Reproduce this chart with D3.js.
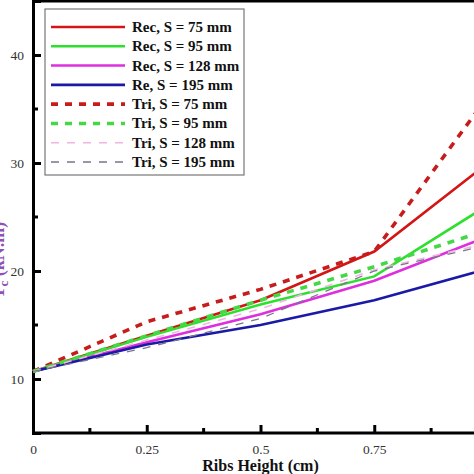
<!DOCTYPE html>
<html lang="en">
  <head>
    <meta charset="UTF-8" />
    <script src="https://cdn.jsdelivr.net/npm/d3@7/dist/d3.min.js"></script>
    <title>Ribs height</title>
    <style>
      body { margin: 0; background: #fff; }
      svg { display: block; }
    </style>
  </head>
  <body>
    <svg width="474" height="474" class="svg"></svg>
    <script>
      // data
      const ribsHeight = [0, 0.25, 0.5, 0.75, 1];
      const seriesNames = [
        'Rec, S = 75 mm', 'Rec, S = 95 mm', 'Rec, S = 128 mm', 'Re, S = 195 mm',
        'Tri, S = 75 mm', 'Tri, S = 95 mm', 'Tri, S = 128 mm', 'Tri, S = 195 mm'
      ];
      const rec75 = [10.7, 14.0, 17.3, 21.8, 30.0];
      const rec95 = [10.7, 13.9, 16.9, 19.5, 26.1];
      const rec128 = [10.7, 13.4, 16.0, 19.1, 23.2];
      const rec195 = [10.7, 13.2, 15.0, 17.3, 20.2];
      const tri75 = [10.7, 15.3, 18.3, 21.8, 36.2];
      const tri95 = [10.7, 14.0, 17.3, 20.4, 23.8];
      const tri128 = [10.7, 13.6, 16.5, 20.1, 22.6];
      const tri195 = [10.7, 12.9, 15.6, 20.0, 22.4];
      // the tick at 1 falls outside the visible area
      const xTicks = [0, 0.25, 0.5, 0.75];
      const yTicks = [10, 20, 30, 40];

      const allSeries = [rec75, rec95, rec128, rec195, tri75, tri95, tri128, tri195];
      // line looks per series
      const looks = [
        { color: '#d41515', width: 2.6, dash: null },
        { color: '#2ee02e', width: 2.6, dash: null },
        { color: '#de2ede', width: 2.6, dash: null },
        { color: '#1a1aa6', width: 2.6, dash: null },
        { color: '#c81c1c', width: 3.6, dash: '7,7' },
        { color: '#45d845', width: 3.6, dash: '7,7' },
        { color: '#f2b4e4', width: 1.6, dash: '8,8' },
        { color: '#777788', width: 1.3, dash: '8,8' }
      ];

      const svg = d3.select('.svg');
      const x = d3.scaleLinear().domain([0, 1]).range([33, 488]);
      const y = d3.scaleLinear().domain([5, 45]).range([433, 1]);

      // frame (top border is visible, right side is cut off)
      svg.append('line')
        .attr('x1', x(0)).attr('x2', 474)
        .attr('y1', y(45)).attr('y2', y(45))
        .attr('stroke', '#000').attr('stroke-width', 3);

      const serif = '"Liberation Serif", "DejaVu Serif", serif';

      // axes, ticks point inward
      const xAxis = svg.append('g')
        .attr('transform', `translate(0, ${y(5)})`)
        .call(d3.axisBottom(x).tickValues(xTicks).tickSize(-8).tickPadding(11)
          .tickFormat(d => d === 0 ? '0' : d3.format('')(d)));
      const yAxis = svg.append('g')
        .attr('transform', `translate(${x(0)}, 0)`)
        .call(d3.axisLeft(y).tickValues(yTicks).tickSize(-8).tickPadding(9));
      xAxis.select('.domain').attr('d', `M${x(0)},0H474`);

      [xAxis, yAxis].forEach(g => {
        g.select('.domain').attr('stroke', '#000').attr('stroke-width', 3);
        g.selectAll('.tick line').attr('stroke', '#000').attr('stroke-width', 3);
        g.selectAll('.tick text')
          .attr('font-family', serif).attr('font-size', 13.5).attr('fill', '#333');
      });

      // minor ticks
      svg.append('g').selectAll('line')
        .data([0.125, 0.375, 0.625, 0.875])
        .join('line')
        .attr('x1', d => x(d)).attr('x2', d => x(d))
        .attr('y1', y(5)).attr('y2', y(5) - 5)
        .attr('stroke', '#000').attr('stroke-width', 3);
      svg.append('g').selectAll('line')
        .data([15, 25, 35])
        .join('line')
        .attr('x1', x(0)).attr('x2', x(0) + 5)
        .attr('y1', d => y(d)).attr('y2', d => y(d))
        .attr('stroke', '#000').attr('stroke-width', 3);

      // axis titles
      svg.append('text')
        .text('Ribs Height (cm)')
        .attr('x', x(0.5)).attr('y', 471)
        .attr('text-anchor', 'middle')
        .attr('font-family', serif).attr('font-weight', 'bold')
        .attr('font-size', 16).attr('fill', '#111');

      const yTitle = svg.append('text')
        .attr('transform', `translate(4, ${y(21)}) rotate(-90)`)
        .attr('text-anchor', 'middle')
        .attr('font-family', serif).attr('font-weight', 'bold')
        .attr('font-size', 18).attr('fill', '#9050b8');
      yTitle.append('tspan').text('T');
      yTitle.append('tspan').text('c').attr('font-size', 13).attr('dy', 4);
      yTitle.append('tspan').text(' (kN.m)').attr('dy', -4);

      // lines
      const line = d3.line()
        .x((d, i) => x(ribsHeight[i]))
        .y(d => y(d));

      svg.append('g').selectAll('path')
        .data(allSeries)
        .join('path')
        .attr('d', line)
        .attr('fill', 'none')
        .attr('stroke', (d, i) => looks[i].color)
        .attr('stroke-width', (d, i) => looks[i].width)
        .attr('stroke-dasharray', (d, i) => looks[i].dash);

      // legend
      const legend = svg.append('g');
      legend.append('rect')
        .attr('x', 45).attr('y', 9)
        .attr('width', 199).attr('height', 166)
        .attr('fill', '#fff')
        .attr('stroke', '#777').attr('stroke-width', 1.2);

      const rowY = d3.scaleLinear().domain([0, 7]).range([27, 162]);
      const rows = legend.selectAll('g.row')
        .data(seriesNames)
        .join('g')
        .attr('class', 'row')
        .attr('transform', (d, i) => `translate(0, ${rowY(i)})`);

      rows.append('line')
        .attr('x1', 51).attr('x2', 125)
        .attr('stroke', (d, i) => looks[i].color)
        .attr('stroke-width', (d, i) => looks[i].width)
        .attr('stroke-dasharray', (d, i) => looks[i].dash);

      rows.append('text')
        .text(d => d)
        .attr('x', 132).attr('y', 5)
        .attr('font-family', serif).attr('font-weight', 'bold')
        .attr('font-size', 15).attr('fill', '#111');
    </script>
  </body>
</html>
